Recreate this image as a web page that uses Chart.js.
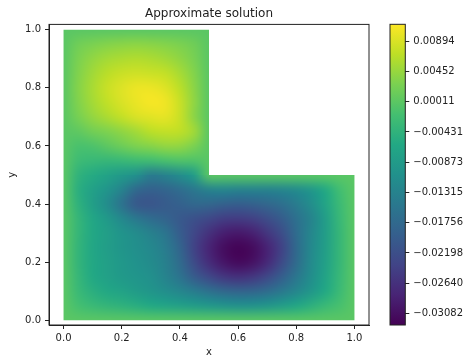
<!DOCTYPE html>
<html>
  <head>
    <title>Approximate solution</title>
    <script src="https://cdn.jsdelivr.net/npm/chart.js@4.4.0/dist/chart.umd.min.js"></script>
    <style>
      body { margin: 0; background: #fff; }
      #wrap { position: relative; width: 474px; height: 364px; }
      #field { position: absolute; left: 0; top: 0; }
      #cbar { position: absolute; left: 380px; top: 0; }
    </style>
  </head>
  <body>
    <div id="wrap">
      <canvas id="field" width="474" height="364"></canvas>
      <canvas id="cbar" width="94" height="364"></canvas>
    </div>
    <script>
      // grid nodes of the L-shaped domain
      const lowerX = [0, 0.05, 0.1, 0.15, 0.2, 0.25, 0.3, 0.35, 0.4, 0.45, 0.5, 0.55, 0.6, 0.65, 0.7, 0.75, 0.8, 0.85, 0.9, 0.95, 1.0];
      const lowerY = [0, 0.05, 0.1, 0.15, 0.2, 0.25, 0.3, 0.35, 0.4, 0.45, 0.5];
      const upperX = [0, 0.05, 0.1, 0.15, 0.2, 0.25, 0.3, 0.35, 0.4, 0.45, 0.5];
      const upperY = [0.5, 0.55, 0.6, 0.65, 0.7, 0.75, 0.8, 0.85, 0.9, 0.95, 1.0];

      // u values, one row per y (bottom to top)
      const lowerValues = [
        [0, 0, 0, 0, 0, 0, 0, 0, 0, 0, 0, 0, 0, 0, 0, 0, 0, 0, 0, 0, 0],
        [0, -0.0018, -0.003, -0.0038, -0.0045, -0.0053, -0.0062, -0.007, -0.0076, -0.0084, -0.0093, -0.01, -0.0105, -0.0103, -0.0096, -0.0082, -0.0066, -0.0048, -0.003, -0.0015, 0],
        [0, -0.003, -0.005, -0.0063, -0.0073, -0.0086, -0.0097, -0.011, -0.0125, -0.0142, -0.0162, -0.0178, -0.0185, -0.0183, -0.017, -0.015, -0.0125, -0.0096, -0.0062, -0.0028, 0],
        [0, -0.0035, -0.0062, -0.0076, -0.009, -0.0098, -0.0108, -0.013, -0.0159, -0.02, -0.023, -0.0255, -0.0265, -0.0255, -0.023, -0.0195, -0.0153, -0.0112, -0.0072, -0.0032, 0],
        [0, -0.0038, -0.0063, -0.0078, -0.0093, -0.0104, -0.0116, -0.0136, -0.0173, -0.0227, -0.027, -0.03, -0.0315, -0.0305, -0.0275, -0.0228, -0.0172, -0.0118, -0.0076, -0.0034, 0],
        [0, -0.0038, -0.0065, -0.0082, -0.0097, -0.0109, -0.0122, -0.0143, -0.0182, -0.024, -0.0281, -0.031, -0.0323, -0.0313, -0.0283, -0.024, -0.0175, -0.0122, -0.008, -0.0034, 0],
        [0, -0.0036, -0.0064, -0.008, -0.01, -0.0115, -0.0133, -0.0155, -0.0196, -0.0233, -0.0263, -0.0288, -0.0296, -0.0286, -0.0257, -0.0222, -0.017, -0.0125, -0.0082, -0.0034, 0],
        [0, -0.0036, -0.0066, -0.009, -0.0122, -0.015, -0.017, -0.0185, -0.0203, -0.0217, -0.023, -0.0245, -0.0248, -0.0242, -0.0223, -0.0198, -0.0163, -0.013, -0.0083, -0.0032, 0],
        [0, -0.0045, -0.008, -0.0115, -0.016, -0.0205, -0.021, -0.02, -0.019, -0.0178, -0.018, -0.019, -0.0195, -0.019, -0.018, -0.0165, -0.0143, -0.0113, -0.007, -0.0028, 0],
        [0, -0.005, -0.0076, -0.0098, -0.013, -0.0175, -0.019, -0.0183, -0.0168, -0.015, -0.013, -0.0125, -0.013, -0.013, -0.013, -0.0125, -0.0115, -0.0095, -0.006, -0.002, 0],
        [0, -0.0042, -0.0058, -0.0073, -0.009, -0.0105, -0.0145, -0.0132, -0.0113, -0.0083, 0, 0, 0, 0, 0, 0, 0, 0, 0, 0, 0],
      ];
      const upperValues = [
        [0, -0.0042, -0.0058, -0.0073, -0.009, -0.0105, -0.0145, -0.0132, -0.0113, -0.0083, 0],
        [0, -0.0026, -0.0032, -0.0035, -0.0032, -0.0025, -0.0022, -0.0014, -0.0008, -0.0008, 0],
        [0, -0.0014, -0.001, 0.0003, 0.0016, 0.0028, 0.0035, 0.0043, 0.0042, 0.0026, 0],
        [0, 0.0004, 0.002, 0.0028, 0.004, 0.0053, 0.0069, 0.0074, 0.0072, 0.0052, 0],
        [0, 0.0023, 0.0043, 0.0059, 0.0074, 0.0089, 0.0095, 0.0098, 0.0078, 0.0036, 0],
        [0, 0.003, 0.0054, 0.0073, 0.0089, 0.0101, 0.011, 0.0105, 0.0078, 0.0039, 0],
        [0, 0.0033, 0.0057, 0.0078, 0.0092, 0.0102, 0.0102, 0.0093, 0.0069, 0.0036, 0],
        [0, 0.003, 0.0052, 0.0068, 0.0078, 0.0082, 0.0079, 0.0074, 0.0056, 0.0031, 0],
        [0, 0.0026, 0.0042, 0.0053, 0.0059, 0.0062, 0.0059, 0.0052, 0.004, 0.0024, 0],
        [0, 0.0018, 0.0026, 0.0032, 0.0036, 0.0038, 0.0036, 0.0032, 0.0027, 0.0017, 0],
        [0, 0, 0, 0, 0, 0, 0, 0, 0, 0, 0],
      ];

      const axisTicks = [0, 0.2, 0.4, 0.6, 0.8, 1.0];
      const colorTicks = [0.00894, 0.00452, 0.00011, -0.00431, -0.00873, -0.01315, -0.01756, -0.02198, -0.0264, -0.03082];
      const colorMin = -0.0325;
      const colorMax = 0.0114;

      // viridis colormap stops
      const viridisStops = [
        [68, 1, 84], [72, 36, 117], [65, 68, 135], [53, 95, 141], [42, 120, 142],
        [33, 145, 140], [34, 168, 132], [68, 191, 112], [122, 209, 81], [189, 223, 38], [253, 231, 37],
      ];
      const ink = "#222";
      const font = { family: "DejaVu Sans", size: 10 };

      function viridis(t) {
        t = Math.min(1, Math.max(0, t));
        const p = t * (viridisStops.length - 1);
        const i = Math.min(Math.floor(p), viridisStops.length - 2);
        const f = p - i;
        const a = viridisStops[i], b = viridisStops[i + 1];
        return [0, 1, 2].map((k) => Math.round(a[k] + (b[k] - a[k]) * f));
      }

      function drawPatch(chart, xs, ys, vals) {
        const { ctx, scales: { x, y } } = chart;
        const nx = xs.length, ny = ys.length;
        const off = document.createElement("canvas");
        off.width = nx;
        off.height = ny;
        const octx = off.getContext("2d");
        const img = octx.createImageData(nx, ny);
        for (let j = 0; j < ny; j++) {
          const row = ny - 1 - j;
          for (let i = 0; i < nx; i++) {
            const c = viridis((vals[j][i] - colorMin) / (colorMax - colorMin));
            const k = (row * nx + i) * 4;
            img.data[k] = c[0];
            img.data[k + 1] = c[1];
            img.data[k + 2] = c[2];
            img.data[k + 3] = 255;
          }
        }
        octx.putImageData(img, 0, 0);
        const hx = (xs[1] - xs[0]) / 2, hy = (ys[1] - ys[0]) / 2;
        const l = x.getPixelForValue(xs[0] - hx), r = x.getPixelForValue(xs[nx - 1] + hx);
        const t = y.getPixelForValue(ys[ny - 1] + hy), b = y.getPixelForValue(ys[0] - hy);
        const cl = x.getPixelForValue(xs[0]), cr = x.getPixelForValue(xs[nx - 1]);
        const ct = y.getPixelForValue(ys[ny - 1]), cb = y.getPixelForValue(ys[0]);
        ctx.save();
        ctx.beginPath();
        ctx.rect(cl, ct, cr - cl, cb - ct);
        ctx.clip();
        ctx.imageSmoothingEnabled = true;
        ctx.imageSmoothingQuality = "high";
        ctx.drawImage(off, l, t, r - l, b - t);
        ctx.restore();
      }

      const fieldPlugin = {
        id: "field",
        beforeDatasetsDraw(chart) {
          drawPatch(chart, lowerX, lowerY, lowerValues);
          drawPatch(chart, upperX, upperY, upperValues);
        },
        afterDraw(chart) {
          const { ctx, chartArea: a } = chart;
          ctx.save();
          ctx.strokeStyle = ink;
          ctx.lineWidth = 1;
          ctx.strokeRect(a.left, a.top, a.right - a.left, a.bottom - a.top);
          ctx.restore();
        },
      };

      const nodes = [];
      lowerY.forEach((yv) => lowerX.forEach((xv) => nodes.push({ x: xv, y: yv })));
      upperY.forEach((yv) => upperX.forEach((xv) => nodes.push({ x: xv, y: yv })));

      const tickStyle = {
        grid: { drawOnChartArea: false, drawTicks: true, tickLength: 4, tickColor: ink, color: ink },
        border: { display: true, color: ink },
      };

      new Chart(document.getElementById("field"), {
        type: "scatter",
        data: { datasets: [{ data: nodes, pointRadius: 0 }] },
        plugins: [fieldPlugin],
        options: {
          responsive: false,
          animation: false,
          layout: { padding: { left: 0, right: 105, top: 0, bottom: 0 } },
          plugins: {
            legend: { display: false },
            tooltip: { enabled: false },
            title: {
              display: true,
              fullSize: false,
              text: "Approximate solution",
              color: ink,
              font: { family: "DejaVu Sans", size: 12, weight: "normal" },
              padding: { top: 7, bottom: 3 },
            },
          },
          scales: {
            x: {
              type: "linear",
              min: -0.05,
              max: 1.05,
              afterBuildTicks: (s) => { s.ticks = axisTicks.map((v) => ({ value: v })); },
              afterFit: (s) => { s.height = 39; },
              ticks: { color: ink, font, padding: 3, maxRotation: 0, callback: (v) => v.toFixed(1) },
              title: { display: true, text: "x", color: ink, font, padding: { top: 0, bottom: 6 } },
              ...tickStyle,
            },
            y: {
              type: "linear",
              min: -0.016,
              max: 1.018,
              afterBuildTicks: (s) => { s.ticks = axisTicks.map((v) => ({ value: v })); },
              afterFit: (s) => { s.width = 49; },
              ticks: { color: ink, font, padding: 4, callback: (v) => v.toFixed(1) },
              title: { display: true, text: "y", color: ink, font, padding: { top: 6, bottom: 0 } },
              ...tickStyle,
            },
          },
        },
      });

      const colorbarPlugin = {
        id: "colorbar",
        beforeDatasetsDraw(chart) {
          const { ctx, chartArea: a, scales: { y } } = chart;
          const g = ctx.createLinearGradient(0, y.getPixelForValue(colorMin), 0, y.getPixelForValue(colorMax));
          viridisStops.forEach((c, i) => g.addColorStop(i / (viridisStops.length - 1), `rgb(${c[0]},${c[1]},${c[2]})`));
          ctx.save();
          ctx.fillStyle = g;
          ctx.fillRect(a.left, a.top, a.right - a.left, a.bottom - a.top);
          ctx.strokeStyle = ink;
          ctx.lineWidth = 1;
          ctx.strokeRect(a.left, a.top, a.right - a.left, a.bottom - a.top);
          ctx.restore();
        },
      };

      new Chart(document.getElementById("cbar"), {
        type: "scatter",
        data: { datasets: [{ data: [], pointRadius: 0 }] },
        plugins: [colorbarPlugin],
        options: {
          responsive: false,
          animation: false,
          layout: { padding: { left: 10, right: 0, top: 24.3, bottom: 39 } },
          plugins: { legend: { display: false }, tooltip: { enabled: false } },
          scales: {
            x: { display: false },
            y: {
              type: "linear",
              position: "right",
              min: colorMin,
              max: colorMax,
              afterBuildTicks: (s) => { s.ticks = colorTicks.map((v) => ({ value: v })); },
              afterFit: (s) => { s.width = 68.7; },
              ticks: {
                color: ink,
                font,
                padding: 4,
                callback: (v) => (v < 0 ? "\u2212" : "") + Math.abs(v).toFixed(5),
              },
              grid: { drawOnChartArea: false, drawTicks: true, tickLength: 4, tickColor: ink },
              border: { display: false },
            },
          },
        },
      });
    </script>
  </body>
</html>
